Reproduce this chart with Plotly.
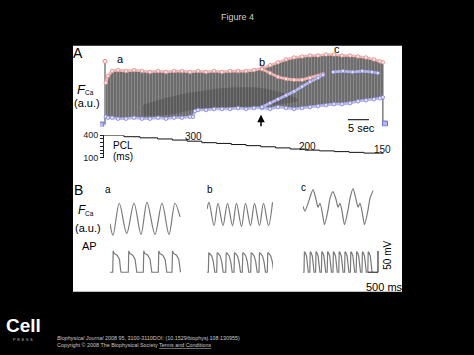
import plotly.graph_objects as go

W, H = 474, 355
FONT = "Liberation Sans, Arial, Helvetica, sans-serif"

# ---------------- Panel A data (time in s, F in a.u.) ----------------
upper_t = [0.2, 0.7, 1.7, 3.1, 5.0, 6.9, 8.8, 10.7, 12.6, 14.5, 16.4, 18.3, 20.2, 22.1, 24.0, 25.9,
           27.8, 29.7, 31.6, 33.5, 35.4, 37.3, 39.2, 41.1, 43.0, 44.9, 46.8, 48.7, 50.6, 52.5, 54.4,
           56.3, 58.2, 60.1, 62.0, 63.9, 65.3, 66.0]
upper_F = [45, 52, 57, 58, 57, 58, 57, 56, 57, 56, 57, 57, 56, 57, 56, 57, 56, 57, 57, 57, 58, 60,
           63, 66, 69, 71, 72, 73, 73, 74, 74, 73, 73, 72, 71, 69, 67, 66]

lower_t = [0.2, 0.7, 1.7, 3.1, 5.0, 6.9, 8.8, 10.7, 12.6, 14.5, 16.4, 18.3, 20.2, 20.9, 21.4, 22.1,
           24.0, 25.9, 27.8, 29.7, 31.6, 33.5, 35.4, 37.3, 39.2, 41.1, 43.0, 44.9, 46.8, 48.7, 50.6,
           52.5, 54.4, 56.3, 58.2, 60.1, 62.0, 63.9, 65.3, 66.0]
lower_F = [10, 9, 9, 8, 8, 9, 8, 8, 9, 8, 9, 9, 10, 10, 16, 17, 17, 18, 18, 18, 19, 18, 19, 19, 18,
           20, 19, 18, 19, 20, 21, 22, 23, 23, 24, 26, 27, 28, 29, 30]

# darker core of the dense transients (middle of the recording)
core_t = [9.0, 15.0, 22.0, 30.0, 36.0, 40.0, 44.0, 46.0, 42.0, 37.0, 30.0, 22.0, 15.0, 9.0]
core_F = [22, 30, 36, 40, 40, 37, 32, 27, 23, 21, 20, 18, 12, 11]

alt_t = [37.3, 39.2, 41.1, 43.0, 44.9, 46.8, 48.7, 50.6, 51.8]
alt_pink_F = [59, 55, 51, 49, 48, 48, 50, 52, 54]
alt_blue_F = [20, 24, 28, 32, 36, 41, 46, 50, 53]
late_t = [54.2, 56.5, 58.8, 61.1, 63.4, 64.8]
late_blue_F = [56, 57, 56, 57, 56, 55]

start_t, start_F = [0.0, 0.0], [2, 67]
end_t, end_F = [66.0, 66.0], [65, 3]
edge_blue_t, edge_blue_F = [-0.9, 66.5], [2, 3]

# pacing cycle length staircase
pcl_t = [-0.5, 4.5, 8.3, 12.5, 16.0, 19.5, 23.0, 26.5, 30.0, 33.5, 37.0, 40.5, 44.0, 47.5, 51.0,
         54.5, 58.0, 61.5, 66.0]
pcl_ms = [400, 380, 365, 350, 335, 320, 300, 290, 275, 260, 245, 230, 215, 200, 190, 180, 170,
          160, 150]
pcl_ticks = [100, 150, 200, 250, 300, 350, 400]
pcl_ticktext = ["100", "", "", "", "", "", "400"]
pcl_labels = [("300", 21.0, 387), ("200", 48.0, 243), ("150", 65.8, 204)]

# ---------------- Panel B data (time in ms) ----------------
ca_a_t = [0, 150, 465, 835, 1200, 1550, 1850, 2250, 2600, 2950, 3250, 3500]
ca_a_F = [15, 3, 36, 5, 36, 4, 37, 4, 36, 4, 36, 22]
ca_b_t = [0, 100, 350, 550, 800, 1025, 1275, 1475, 1725, 1925, 2175, 2375, 2625, 2825, 3075, 3275]
ca_b_F = [30, 37, 13, 36, 13, 36, 13, 36, 12, 36, 13, 36, 13, 36, 13, 37]
ca_c_t = [0, 100, 300, 500, 650, 750, 850, 950, 1075, 1250, 1350, 1500, 1650, 1750, 1850, 1950,
          2075, 2250, 2350, 2500, 2650, 2750, 2850, 2950, 3075, 3250, 3350, 3500]
ca_c_F = [33, 28, 39, 50, 40, 32, 36, 28, 14, 29, 41, 48, 40, 32, 36, 28, 14, 29, 41, 51, 40, 32,
          36, 28, 14, 29, 41, 49]

ap_a_onsets = [135, 915, 1665, 2415, 3100]
ap_a_shape_t = [0, 25, 75, 225, 340, 400, 425]
ap_a_shape_v = [0, 50, 44, 40, 30, 3, 0]
ap_b_onsets = [65, 485, 935, 1350, 1765, 2185, 2600, 3015]
ap_b_shape_t = [0, 25, 75, 175, 250, 300, 325]
ap_b_shape_v = [0, 46, 44, 38, 25, 3, 0]
ap_c_onsets = [50, 340, 630, 920, 1210, 1500, 1790, 2080, 2370, 2660, 2950, 3240]
ap_c_shape_t = [0, 20, 60, 125, 180, 215]
ap_c_shape_v = [0, 48, 46, 38, 15, 0]


def build_ap(onsets, st, sv):
    xs, ys = [0], [0]
    for o in onsets:
        for dt, v in zip(st, sv):
            xs.append(o + dt)
            ys.append(v)
    return xs, ys


def fx(px):
    return px / W


def fy(py):
    return 1 - py / H


fig = go.Figure()

# gray band of Ca transients
band_t = upper_t + lower_t[::-1]
band_F = upper_F + lower_F[::-1]
fig.add_trace(go.Scatter(
    x=band_t, y=band_F, fill="toself", mode="none", fillcolor="#6e6e6e",
    fillpattern=dict(shape="|", size=3, solidity=0.3, fgcolor="#acacac", bgcolor="#6c6c6c"),
    xaxis="x", yaxis="y", hoverinfo="skip", showlegend=False))
fig.add_trace(go.Scatter(
    x=core_t, y=core_F, fill="toself", mode="none", fillcolor="rgba(25,25,25,0.2)",
    line=dict(shape="spline"), xaxis="x", yaxis="y", hoverinfo="skip", showlegend=False))

for tx, ty in [(start_t, start_F), (end_t, end_F)]:
    fig.add_trace(go.Scatter(x=tx, y=ty, mode="lines", line=dict(color="#6a6a6a", width=1.3),
                             xaxis="x", yaxis="y", showlegend=False, hoverinfo="skip"))

pink = dict(mode="lines+markers", line=dict(color="#f2b8b8", width=2.6),
            marker=dict(symbol="circle", size=3.6, color="#fbe6e6", line=dict(color="#e38888", width=0.8)))
blue = dict(mode="lines+markers", line=dict(color="#b8b8f0", width=2.6),
            marker=dict(symbol="circle", size=3.6, color="#e2e2fb", line=dict(color="#8080da", width=0.8)))

fig.add_trace(go.Scatter(x=upper_t, y=upper_F, xaxis="x", yaxis="y", showlegend=False, **pink))
fig.add_trace(go.Scatter(x=alt_t, y=alt_pink_F, xaxis="x", yaxis="y", showlegend=False, **pink))
fig.add_trace(go.Scatter(x=lower_t, y=lower_F, xaxis="x", yaxis="y", showlegend=False, **blue))
fig.add_trace(go.Scatter(x=alt_t, y=alt_blue_F, xaxis="x", yaxis="y", showlegend=False, **blue))
fig.add_trace(go.Scatter(x=late_t, y=late_blue_F, xaxis="x", yaxis="y", showlegend=False, **blue))
fig.add_trace(go.Scatter(x=edge_blue_t, y=edge_blue_F, mode="markers", xaxis="x", yaxis="y",
                         marker=dict(symbol="square", size=5, color="#b8b8f0", line=dict(color="#7070d0", width=1)),
                         showlegend=False))
fig.add_trace(go.Scatter(x=[start_t[1]], y=[start_F[1]], mode="markers", xaxis="x", yaxis="y",
                         marker=dict(size=4, color="#fbe3e3", line=dict(color="#e58c8c", width=1)),
                         showlegend=False))

# PCL staircase
fig.add_trace(go.Scatter(x=pcl_t, y=pcl_ms, mode="lines", line=dict(color="#111", width=1, shape="hv"),
                         xaxis="x", yaxis="y2", showlegend=False))

# Panel B traces
gray = dict(color="#7a7a7a", width=1.2)
fig.add_trace(go.Scatter(x=ca_a_t, y=ca_a_F, mode="lines", line=dict(shape="spline", smoothing=0.9, **gray),
                         xaxis="x3", yaxis="y3", showlegend=False))
fig.add_trace(go.Scatter(x=ca_b_t, y=ca_b_F, mode="lines", line=dict(shape="spline", smoothing=0.9, **gray),
                         xaxis="x4", yaxis="y3", showlegend=False))
fig.add_trace(go.Scatter(x=ca_c_t, y=ca_c_F, mode="lines", line=dict(shape="spline", smoothing=0.7, **gray),
                         xaxis="x5", yaxis="y3", showlegend=False))
for ons, st, sv, xa in [(ap_a_onsets, ap_a_shape_t, ap_a_shape_v, "x3"),
                        (ap_b_onsets, ap_b_shape_t, ap_b_shape_v, "x4"),
                        (ap_c_onsets, ap_c_shape_t, ap_c_shape_v, "x5")]:
    ax_, ay_ = build_ap(ons, st, sv)
    fig.add_trace(go.Scatter(x=ax_, y=ay_, mode="lines", line=gray, xaxis=xa, yaxis="y4", showlegend=False))

PXS = 4.21  # px per second in panel A
hidden = dict(visible=False, showgrid=False, zeroline=False)
fig.update_layout(
    width=W, height=H, margin=dict(l=0, r=0, t=0, b=0),
    paper_bgcolor="black", plot_bgcolor="rgba(0,0,0,0)",
    font=dict(family=FONT, color="black"),
    xaxis=dict(domain=[fx(100), fx(390)], range=[(100 - 105) / PXS, (390 - 105) / PXS], anchor="y", **hidden),
    yaxis=dict(domain=[fy(125), fy(45)], range=[0, 80], anchor="x", **hidden),
    yaxis2=dict(domain=[fy(157), fy(134)], range=[100, 400], anchor="free", position=fx(103),
                showline=True, linecolor="#222", linewidth=1, ticks="outside", ticklen=3, tickwidth=1,
                tickcolor="#222", tickvals=pcl_ticks, ticktext=pcl_ticktext, showgrid=False, zeroline=False,
                tickfont=dict(size=9, color="#222")),
    xaxis3=dict(domain=[fx(110), fx(181)], range=[0, 3550], anchor="y3", **hidden),
    xaxis4=dict(domain=[fx(207), fx(273)], range=[0, 3300], anchor="y3", **hidden),
    xaxis5=dict(domain=[fx(303), fx(380)], range=[0, 3850], anchor="y3", **hidden),
    yaxis3=dict(domain=[fy(240), fy(185)], range=[0, 55], anchor="x3", **hidden),
    yaxis4=dict(domain=[fy(280), fy(245)], range=[-11.4, 68.2], anchor="x3", **hidden),
)

shapes = [
    dict(type="rect", xref="paper", yref="paper", x0=fx(73), x1=fx(402), y0=fy(295), y1=fy(42),
         fillcolor="white", line=dict(width=0), layer="below"),
    # 5 sec bar
    dict(type="line", xref="x", yref="y", x0=57.7, x1=62.7, y0=7, y1=7, line=dict(color="#333", width=1.3)),
    # 500 ms / 50 mV bars
    dict(type="line", xref="x5", yref="y4", x0=3250, x1=3750, y0=0, y1=0, line=dict(color="#333", width=1.2)),
    dict(type="line", xref="x5", yref="y4", x0=3750, x1=3750, y0=0, y1=50, line=dict(color="#333", width=1.2)),
]
fig.update_layout(shapes=shapes)


def txt(s, x, y, size=11, color="black", **kw):
    d = dict(text=s, x=fx(x), y=fy(y), xref="paper", yref="paper", showarrow=False,
             font=dict(size=size, color=color, family=FONT), xanchor="center", yanchor="middle")
    d.update(kw)
    return d


ann = [
    txt("Figure 4", 237, 12, size=9, color="#d0d0d0"),
    txt("A", 78, 49, size=14),
    txt("a", 120, 56, size=11),
    txt("b", 262, 59, size=11),
    txt("c", 337, 45, size=11),
    txt("<i>F</i>", 81, 87, size=13),
    txt("Ca", 89, 90.5, size=6.5),
    txt("(a.u.)", 87, 101, size=11),
    txt("5 sec", 361, 127, size=11),
    txt("PCL", 111, 145, size=10, xanchor="left"),
    txt("(ms)", 111, 156, size=10, xanchor="left"),
    txt("B", 78, 190, size=14),
    txt("a", 108, 190, size=10),
    txt("b", 210, 190, size=10),
    txt("c", 303, 188, size=10),
    txt("<i>F</i>", 82, 211, size=12),
    txt("Ca", 89, 214.5, size=6.5),
    txt("(a.u.)", 88, 229, size=11),
    txt("AP", 89, 248, size=11),
    txt("50 mV", 388, 258, size=10, textangle=-90),
    txt("500 ms", 384, 290, size=11),
    txt("<b>Cell</b>", 23, 330, size=19, color="white"),
    txt("P  R  E  S  S", 23, 345, size=3.5, color="#cccccc"),
    txt("<i>Biophysical Journal</i> 2008 95, 3100-3110DOI: (10.1529/biophysj.108.130955)",
        55, 343, size=5.4, color="#c8c8c8", xanchor="left"),
    txt("Copyright © 2008 The Biophysical Society <u>Terms and Conditions</u>",
        55, 350, size=5.4, color="#c8c8c8", xanchor="left"),
    # arrow in panel A
    dict(x=(261 - 105) / PXS, y=12, xref="x", yref="y", text="", showarrow=True, ax=0, ay=13,
         arrowhead=2, arrowsize=1, arrowwidth=1.5, arrowcolor="black"),
]
for lab, t, v in pcl_labels:
    ann.append(dict(text=lab, x=t, y=v, xref="x", yref="y2", showarrow=False,
                    font=dict(size=10, color="#111", family=FONT), xanchor="center", yanchor="middle"))
fig.update_layout(annotations=ann)

fig.write_html("out.html")
